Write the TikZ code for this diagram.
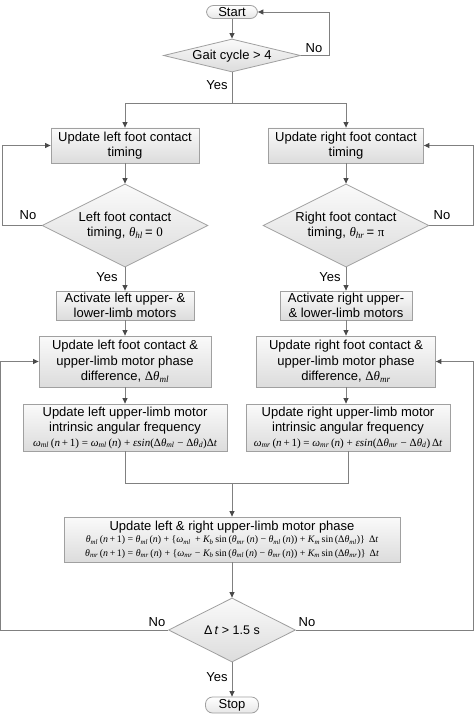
\documentclass[tikz,border=0pt]{standalone}
\usepackage{fontspec}
\setmainfont{Liberation Sans}
\newfontfamily\tms{Liberation Serif}
\usetikzlibrary{arrows.meta,shapes.geometric}
\definecolor{boxline}{HTML}{A0A0A0}
\definecolor{conn}{HTML}{808080}
\definecolor{tipc}{HTML}{4A4A4A}
\definecolor{shadetop}{HTML}{FAFAFA}
\definecolor{shadebot}{HTML}{DCDCDC}
\newcommand\vv[1]{{\tms\itshape #1}}
\newcommand\sbs[1]{\textsubscript{\tms\itshape #1}}
\begin{document}
\begin{tikzpicture}[x=1pt,y=-1pt,
  base/.style={font=\fontsize{13}{15.5}\selectfont, align=center, inner sep=0pt},
  stepbox/.style={base, draw=boxline, line width=0.8pt, top color=shadetop, bottom color=shadebot},
  termbox/.style={base, draw=boxline, line width=0.8pt, rounded corners=7pt, top color=white, bottom color=shadebot!70!white},
  decis/.style={diamond, draw=boxline, line width=0.8pt, top color=shadetop, bottom color=shadebot, inner sep=0pt},
  conline/.style={draw=conn, line width=0.9pt},
  conarrow/.style={conline, -{Triangle[length=5.5pt,width=5pt,color=tipc]}},
  lbl/.style={font=\fontsize{13}{15}\selectfont, inner sep=0pt}
]
\useasboundingbox (0,0) rectangle (474,719);
\fill[white] (0,0) rectangle (474,719);

% terminals
\node[termbox, minimum width=51pt, minimum height=13pt] (start) at (232,12) {Start};
\node[termbox, minimum width=53pt, minimum height=16pt] (stop) at (232,705) {Stop};

% first decision
\node[decis, minimum width=137pt, minimum height=33pt] (g1) at (232,55.5) {};
\node[base] (g1t) at (232,56) {Gait cycle > 4};

% left column
\node[stepbox, minimum width=148pt, minimum height=35pt] (lt1) at (125,145.5) {Update left foot contact\\timing};
\node[decis, minimum width=166pt, minimum height=83pt] (ld) at (125,225.5) {};
\node[base] (ldt) at (125,225.5) {Left foot contact\\timing, \vv{θ}\sbs{hl}\,= {\tms 0}};
\node[stepbox, minimum width=138pt, minimum height=29pt] (la) at (125,305.5) {Activate left upper- \&\\lower-limb motors};
\node[stepbox, minimum width=172pt, minimum height=51pt] (lp) at (125,361.5) {Update left foot contact \&\\upper-limb motor phase\\difference, {\tms Δ}\vv{θ}\sbs{ml}};
\node[stepbox, minimum width=204pt, minimum height=47pt] (lw) at (125,427.5) {Update left upper-limb motor\\intrinsic angular frequency\\[-1pt]{\tms\fontsize{11}{12}\selectfont \vv{ω}\sbs{ml}\,(\vv{n}\,+\,1) = \vv{ω}\sbs{ml}\,(\vv{n}) + \vv{εsin}(Δ\vv{θ}\sbs{ml} − Δ\vv{θ}\sbs{d})Δ\vv{t}}};

% right column
\node[stepbox, minimum width=155pt, minimum height=35pt] (rt1) at (346,145.5) {Update right foot contact\\timing};
\node[decis, minimum width=166pt, minimum height=83pt] (rd) at (346,225.5) {};
\node[base] (rdt) at (346,225.5) {Right foot contact\\timing, \vv{θ}\sbs{hr}\,= {\tms π}};
\node[stepbox, minimum width=132pt, minimum height=29pt] (ra) at (346,305.5) {Activate right upper-\\\& lower-limb motors};
\node[stepbox, minimum width=179pt, minimum height=51pt] (rp) at (346,361.5) {Update right foot contact \&\\upper-limb motor phase\\difference, {\tms Δ}\vv{θ}\sbs{mr}};
\node[stepbox, minimum width=204pt, minimum height=47pt] (rw) at (348,427.5) {Update right upper-limb motor\\intrinsic angular frequency\\[-1pt]{\tms\fontsize{11}{12}\selectfont \vv{ω}\sbs{mr}\,(\vv{n}\,+\,1) = \vv{ω}\sbs{mr}\,(\vv{n}) + \vv{εsin}(Δ\vv{θ}\sbs{mr} − Δ\vv{θ}\sbs{d})\,Δ\vv{t}}};

% phase update
\node[stepbox, minimum width=336pt, minimum height=45pt] (ph) at (232,539.5) {Update left \& right upper-limb motor phase\\[-3pt]
{\tms\fontsize{9.9}{11.5}\selectfont \vv{θ}\sbs{ml}\,(\vv{n}\,+\,1) = \vv{θ}\sbs{ml}\,(\vv{n}) + \{\vv{ω}\sbs{ml}\, + \vv{K}\sbs{b}\,sin\,(\vv{θ}\sbs{mr}\,(\vv{n}) − \vv{θ}\sbs{ml}\,(\vv{n})) + \vv{K}\sbs{m}\,sin\,(Δ\vv{θ}\sbs{ml})\}\, Δ\vv{t}}\\[-2pt]
{\tms\fontsize{9.9}{11.5}\selectfont \vv{θ}\sbs{mr}\,(\vv{n}\,+\,1) = \vv{θ}\sbs{mr}\,(\vv{n}) + \{\vv{ω}\sbs{mr} − \vv{K}\sbs{b}\,sin\,(\vv{θ}\sbs{ml}\,(\vv{n}) − \vv{θ}\sbs{mr}\,(\vv{n})) + \vv{K}\sbs{m}\,sin\,(Δ\vv{θ}\sbs{mr})\}\, Δ\vv{t}}};

% last decision
\node[decis, minimum width=127pt, minimum height=64pt] (dt) at (232,630) {};
\node[base] (dtt) at (232,630) {\fontsize{12.5}{15}\selectfont Δ\,\textit{t} > 1.5 s};

% coordinates
\coordinate (gloop) at (329,55.5);
\coordinate (split) at (232,103);
\coordinate (lloop) at (2,225.5);
\coordinate (rloop) at (473,225.5);
\coordinate (merge) at (232,483);
\coordinate (bl) at (0.5,630);
\coordinate (br) at (473.5,630);

% connectors
\draw[conarrow] (start) -- (g1);
\draw[conarrow] (g1.east) -- (gloop) |- (start.east);
\draw[conline] (g1.south) -- (split);
\draw[conarrow] (split) -| (lt1.north);
\draw[conarrow] (split) -| (rt1.north);
\draw[conarrow] (lt1) -- (ld);
\draw[conarrow] (rt1) -- (rd);
\draw[conarrow] (ld.west) -- (lloop) |- (lt1.west);
\draw[conarrow] (rd.east) -- (rloop) |- (rt1.east);
\draw[conarrow] (ld) -- (la);
\draw[conarrow] (rd) -- (ra);
\draw[conarrow] (la) -- (lp);
\draw[conarrow] (ra) -- (rp);
\draw[conarrow] (lp) -- (lp.south |- lw.north);
\draw[conarrow] (rp.south) -- (rp.south |- rw.north);
\draw[conline] (lw.south) |- (merge);
\draw[conline] (rw.south) |- (merge);
\draw[conarrow] (merge) -- (ph.north);
\draw[conarrow] (ph) -- (dt);
\draw[conarrow] (dt.west) -- (bl) |- (lp.west);
\draw[conarrow] (dt.east) -- (br) |- (rp.east);
\draw[conarrow] (dt) -- (stop);

% labels
\node[lbl] (n1) at (314,48) {No};
\node[lbl] (y1) at (217,85) {Yes};
\node[lbl] (n2) at (28,215) {No};
\node[lbl] (n3) at (442,215) {No};
\node[lbl] (y2) at (107,277) {Yes};
\node[lbl] (y3) at (330,277) {Yes};
\node[lbl] (n4) at (157,622) {No};
\node[lbl] (n5) at (307,622) {No};
\node[lbl] (y4) at (217,677) {Yes};
\end{tikzpicture}
\end{document}
